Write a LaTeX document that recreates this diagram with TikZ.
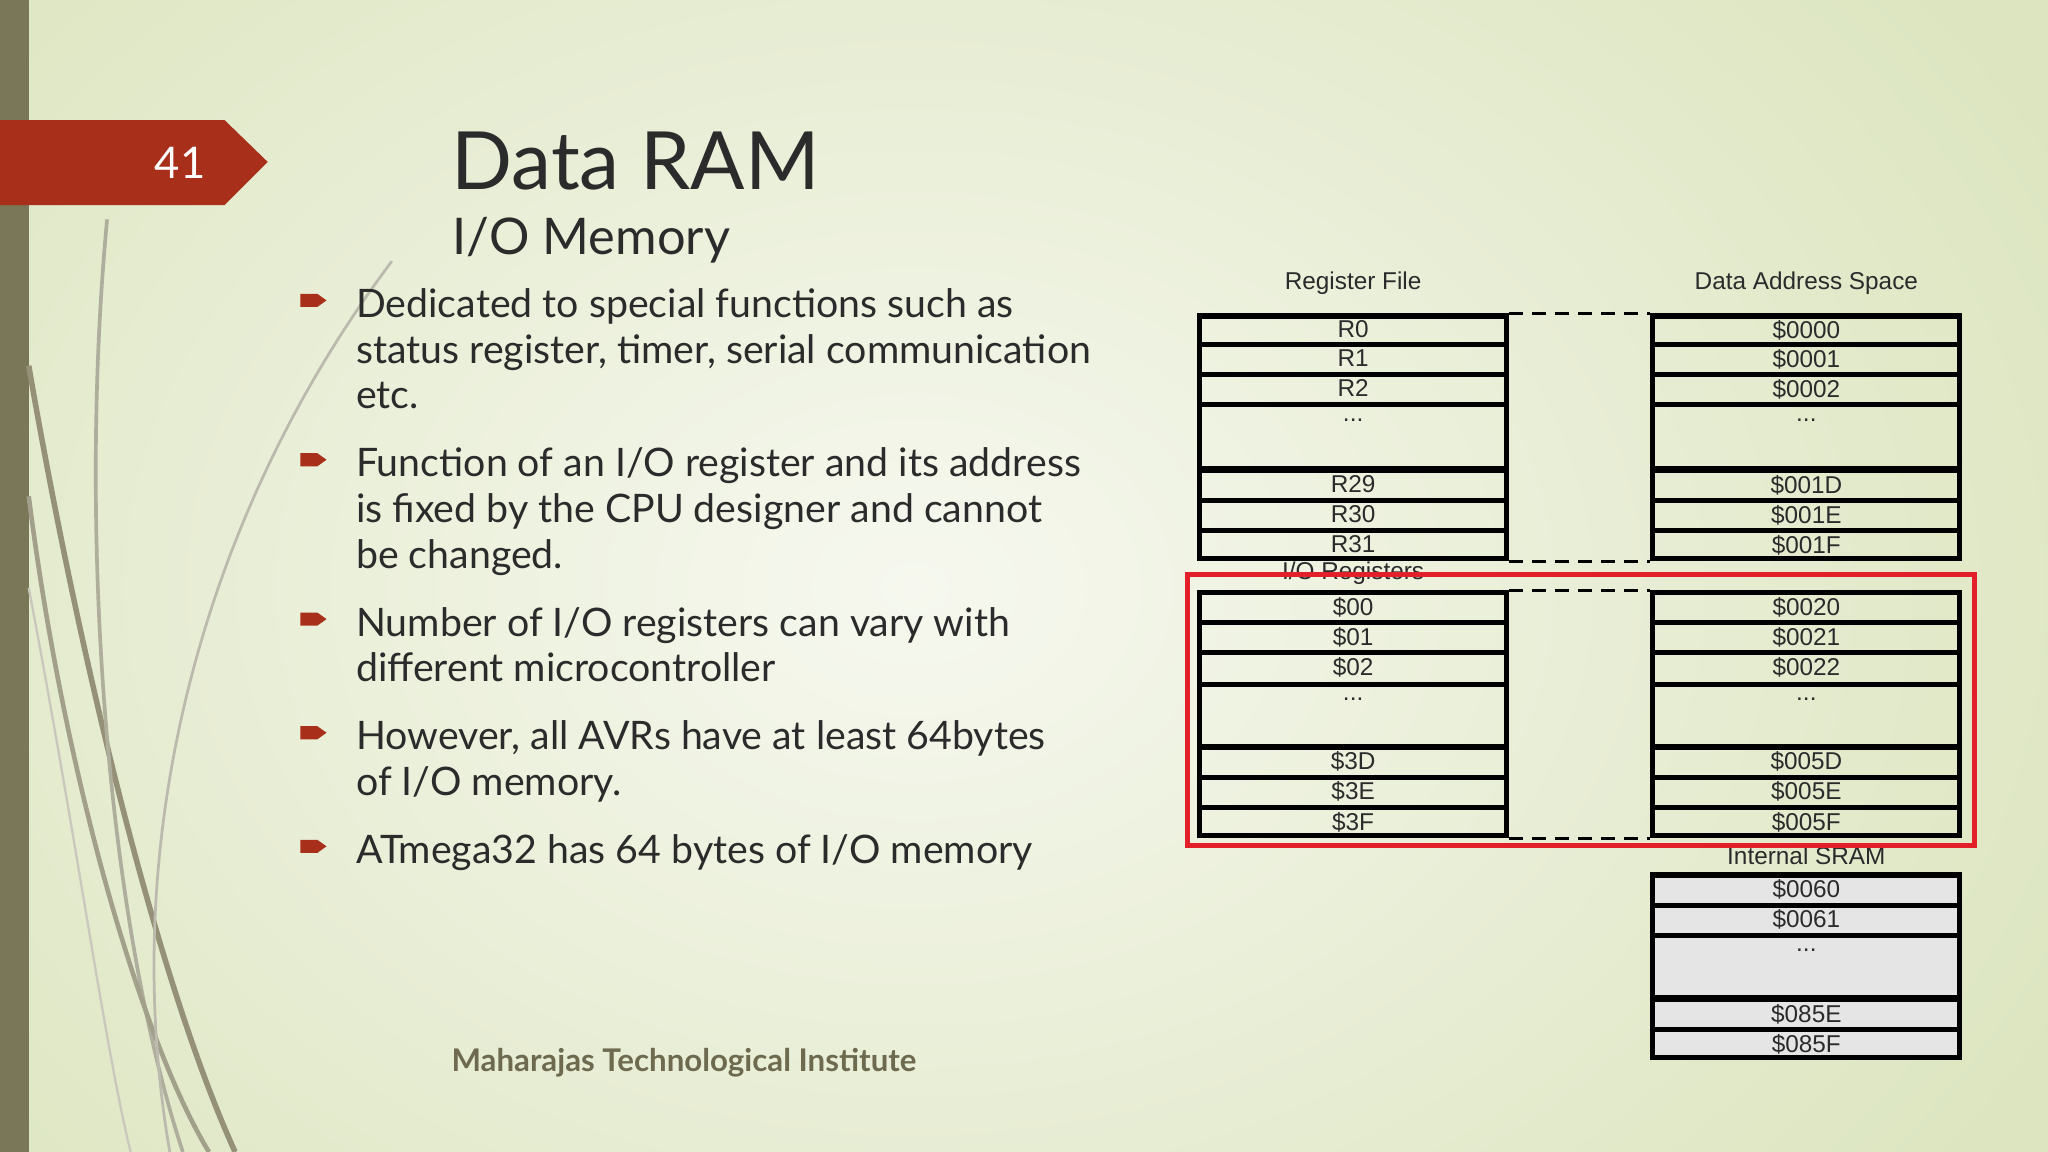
\documentclass[tikz,border=0pt]{standalone}
\usepackage{fontspec}
\setmainfont{Lato}
\newfontfamily\diag{Liberation Sans}
\usetikzlibrary{shadings}
\definecolor{bgA}{HTML}{F6F8EF}
\definecolor{bgB}{HTML}{DCE5BF}
\definecolor{olive}{HTML}{7A7658}
\definecolor{tabred}{HTML}{A8301A}
\definecolor{txt}{HTML}{2B2B2B}
\definecolor{boxred}{HTML}{E3202A}
\tikzset{
 cell/.style={draw=black,line width=1.1pt,minimum width=2.35cm,inner sep=0pt},
 bul/.style={anchor=base west,font=\fontsize{8.55}{10}\selectfont,text=txt,inner sep=0pt},
 lbl/.style={font=\diag\fontsize{5.3}{6}\selectfont,text=txt,inner sep=0pt},
 dashline/.style={line width=0.6pt,dash pattern=on 3pt off 2pt}
}
\newcommand{\mycell}[6]{% name, cx, top, bottom, text, fill
 \node[cell,fill=#6,minimum height={(#4-#3)*0.01cm},anchor=north] (#1) at (#2,#3) {};
 \node[lbl,anchor=north] (#1t) at (#2,#3+5) {#5};}
\newcommand{\mygap}[5]{% name, cx, top, bottom, fill
 \node[cell,fill=#5,minimum height={(#4-#3)*0.01cm},anchor=north] (#1) at (#2,#3) {};
 \node[lbl,anchor=north] (#1t) at (#2,#3+11) {...};}
\begin{document}
\begin{tikzpicture}[x=0.01cm,y=-0.01cm]
\useasboundingbox (0,0) rectangle (1568,882);
\shade[inner color=bgA,outer color=bgB] (-300,-300) rectangle (1700,1200);
\fill[olive] (0,0) rectangle (22,882);
% decorative curves
\draw[olive!80,line width=1.2pt] (22,280) .. controls (60,500) and (120,750) .. (180,882);
\draw[olive!60,line width=0.8pt] (82,168) .. controls (60,400) and (80,700) .. (140,882);
\draw[olive!70,line width=1pt] (22,380) .. controls (50,600) and (110,800) .. (160,882);
\draw[olive!50,line width=0.6pt] (300,200) .. controls (150,400) and (90,650) .. (130,882);
\draw[olive!40,line width=0.5pt] (22,450) .. controls (60,650) and (80,800) .. (100,882);
% tab
\fill[tabred] (0,92) -- (172,92) -- (205,124) -- (172,157) -- (0,157) -- cycle;
\node[text=white,font=\fontsize{9.5}{11}\selectfont] (num) at (138,125) {41};
\node[anchor=base west,inner sep=0pt,text=txt,font=\fontsize{17.5}{20}\selectfont] (title) at (345,145) {Data RAM};
\node[anchor=base west,inner sep=0pt,text=txt,font=\fontsize{11}{13}\selectfont] (sub) at (346,195) {I/O Memory};
% bullets
\foreach \y in {233,355,477,564,651}{
 \fill[tabred] (230,\y-8) -- (243,\y-8) -- (250,\y-3) -- (243,\y+2) -- (230,\y+2) -- cycle;}
\node[bul] (l1) at (272,243) {Dedicated to special functions such as};
\node[bul] (l2) at (272,278) {status register, timer, serial communication};
\node[bul] (l3) at (272,313) {etc.};
\node[bul] (l4) at (272,365) {Function of an I/O register and its address};
\node[bul] (l5) at (272,400) {is fixed by the CPU designer and cannot};
\node[bul] (l6) at (272,435) {be changed.};
\node[bul] (l7) at (272,487) {Number of I/O registers can vary with};
\node[bul] (l8) at (272,522) {different microcontroller};
\node[bul] (l9) at (272,574) {However, all AVRs have at least 64bytes};
\node[bul] (l10) at (272,609) {of I/O memory.};
\node[bul] (l11) at (272,661) {ATmega32 has 64 bytes of I/O memory};
\node[anchor=base west,inner sep=0pt,text=olive!90!black,font=\fontsize{6.8}{8}\selectfont\bfseries] (foot) at (345,820) {Maharajas Technological Institute};
% diagram
\node[lbl] (rf) at (1036,217) {Register File};
\node[lbl] (das) at (1383,217) {Data Address Space};
\mycell{r0}{1036}{240}{262}{R0}{none}
\mycell{r1}{1036}{262}{285}{R1}{none}
\mycell{r2}{1036}{285}{308}{R2}{none}
\mygap{rg}{1036}{308}{357}{none}
\mycell{r29}{1036}{358}{381}{R29}{none}
\mycell{r30}{1036}{381}{404}{R30}{none}
\mycell{r31}{1036}{404}{426}{R31}{none}
\mycell{a0}{1383}{240}{262}{\$0000}{none}
\mycell{a1}{1383}{262}{285}{\$0001}{none}
\mycell{a2}{1383}{285}{308}{\$0002}{none}
\mygap{ag}{1383}{308}{357}{none}
\mycell{a29}{1383}{358}{381}{\$001D}{none}
\mycell{a30}{1383}{381}{404}{\$001E}{none}
\mycell{a31}{1383}{404}{426}{\$001F}{none}
\node[lbl] (ior) at (1036,439) {I/O Registers};
\mycell{i0}{1036}{452}{475}{\$00}{none}
\mycell{i1}{1036}{475}{498}{\$01}{none}
\mycell{i2}{1036}{498}{522}{\$02}{none}
\mygap{ig}{1036}{522}{570}{none}
\mycell{i3d}{1036}{570}{593}{\$3D}{none}
\mycell{i3e}{1036}{593}{616}{\$3E}{none}
\mycell{i3f}{1036}{616}{638}{\$3F}{none}
\mycell{b0}{1383}{452}{475}{\$0020}{none}
\mycell{b1}{1383}{475}{498}{\$0021}{none}
\mycell{b2}{1383}{498}{522}{\$0022}{none}
\mygap{bg}{1383}{522}{570}{none}
\mycell{b3d}{1383}{570}{593}{\$005D}{none}
\mycell{b3e}{1383}{593}{616}{\$005E}{none}
\mycell{b3f}{1383}{616}{638}{\$005F}{none}
\node[lbl] (sram) at (1383,655) {Internal SRAM};
\mycell{s0}{1383}{668}{691}{\$0060}{black!10}
\mycell{s1}{1383}{691}{714}{\$0061}{black!10}
\mygap{sg}{1383}{714}{762}{black!10}
\mycell{s5e}{1383}{763}{786}{\$085E}{black!10}
\mycell{s5f}{1383}{786}{808}{\$085F}{black!10}
\draw[dashline] (r0.north east) -- (a0.north west);
\draw[dashline] (r31.south east) -- (a31.south west);
\draw[dashline] (i0.north east) -- (b0.north west);
\draw[dashline] (i3f.south east) -- (b3f.south west);
\draw[boxred,line width=1.1pt] (909,440) rectangle (1512,647);
\end{tikzpicture}
\end{document}
